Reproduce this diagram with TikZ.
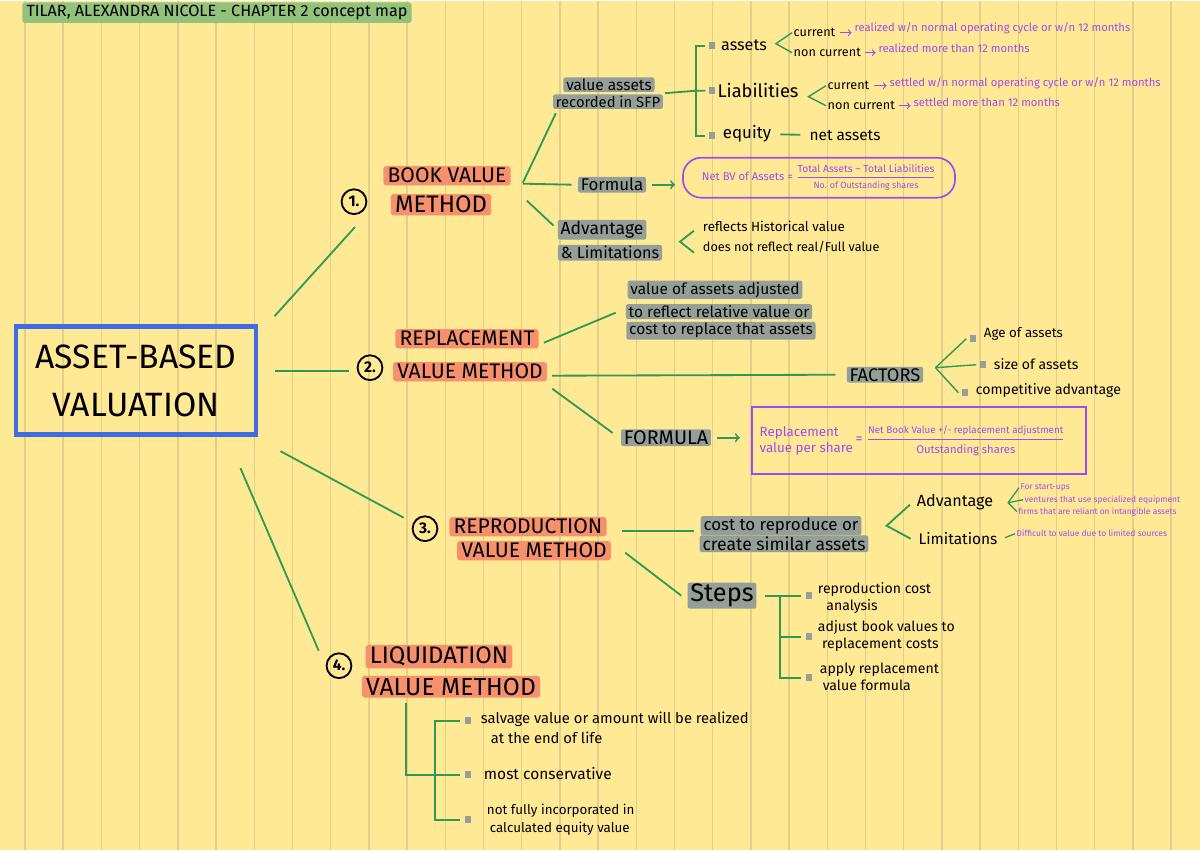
\documentclass[tikz,border=0pt]{standalone}
\usepackage{fontspec}
\usepackage{amsmath}
\setmainfont{Fira Sans}
\usetikzlibrary{arrows, calc, positioning}

\definecolor{paper}{HTML}{FFE994}
\definecolor{paperline}{HTML}{E2CF88}
\definecolor{hlgreen}{HTML}{93C27A}
\definecolor{hlorange}{HTML}{F7916D}
\definecolor{hlgray}{HTML}{949F98}
\definecolor{lgreen}{HTML}{2E9A56}
\definecolor{mpurple}{HTML}{A24AF0}
\definecolor{mblue}{HTML}{3F6BE3}

\newcommand{\fsz}[1]{\fontsize{#1}{#1}\selectfont}

\begin{document}
\begin{tikzpicture}[x=0.025cm, y=-0.025cm,
    link/.style={draw=lgreen, line width=1.3pt},
    hlgray/.style={fill=hlgray, rounded corners=1.5pt, inner xsep=2pt, inner ysep=1pt},
    hlorange/.style={fill=hlorange, rounded corners=2pt, inner xsep=3pt, inner ysep=1.5pt, font=\fsz{15}},
    num/.style={circle, draw, line width=1.3pt, minimum size=0.62cm, inner sep=0pt, font=\bfseries\fsz{11}},
    sq/.style={fill=hlgray, minimum size=0.17cm, inner sep=0pt},
    note/.style={text=mpurple, anchor=west, inner sep=1pt},
    item/.style={anchor=west, align=left},
    notearrow/.style={draw=mpurple, line width=0.8pt, ->, shorten <=2pt, shorten >=1pt}]
%    \tikzstyle{every node} = [draw]
    \fill [paper] (0, 0) rectangle (1200, 849);
    \foreach \n in {0, ..., 30} {
      \draw [paperline, line width=1pt] ({25 + 38.2*\n}, 0) -- ({25 + 38.2*\n}, 849);
    }
    \node [fill=hlgreen, rounded corners=2pt, inner xsep=3pt, inner ysep=2pt, font=\fsz{11.5}] (title) at (217, 12) {TILAR, ALEXANDRA NICOLE - CHAPTER 2 concept map};

    \node [draw=mblue, line width=3.5pt, minimum width=6cm, minimum height=2.7cm, align=center,
      font=\fontsize{24}{34}\selectfont] (main) at (136, 380) {ASSET-BASED\\VALUATION};

    \node [num] (c1) at (354, 201) {1.};
    \node [num] (c2) at (370, 367) {2.};
    \node [num] (c3) at (425, 528) {3.};
    \node [num] (c4) at (339, 665) {4.};
    \draw [link] ($(main.north east) + (16, -8)$) -- ($(c1.south) + (1, 12)$);
    \draw [link] ($(main.east) + (17, -10)$) -- ($(c2.west) + (-8, 3)$);
    \draw [link] ($(main.south east) + (22, 14)$) -- ($(c3.west) + (-8, -11)$);
    \draw [link] ($(main.south east) + (-18, 31)$) -- ($(c4.west) + (-7, -15)$);

    \node [hlorange] (bvA) at (447, 175) {BOOK VALUE};
    \node [hlorange, font=\fsz{17}] (bvB) at (441, 204) {METHOD};
    \node [hlorange] (rpA) at (467, 338) {REPLACEMENT};
    \node [hlorange] (rpB) at (470, 371) {VALUE METHOD};
    \node [hlorange] (rdA) at (528, 526) {REPRODUCTION};
    \node [hlorange] (rdB) at (534, 550) {VALUE METHOD};
    \node [hlorange, font=\fsz{17}] (lqA) at (439, 656) {LIQUIDATION};
    \node [hlorange, font=\fsz{17.5}] (lqB) at (451, 686) {VALUE METHOD};

    % book value method
    \node [hlgray, font=\fsz{11}] (sfpA) at (609, 84) {value assets};
    \node [hlgray, font=\fsz{10.5}] (sfpB) at (608, 101) {recorded in SFP};
    \node [hlgray, font=\fsz{12}] (bfm) at (612, 184) {Formula};
    \node [hlgray, font=\fsz{12.5}] (advA) at (602, 229) {Advantage};
    \node [hlgray, font=\fsz{11.5}] (advB) at (610, 252) {\& Limitations};
    \draw [link] ($(bvA.east) + (12, 7)$) -- ($(sfpB.south west) + (3, 4)$);
    \draw [link] ($(bvA.east) + (12, 8)$) -- ($(bfm.west) + (-6, 0)$);
    \draw [link] ($(bvA.east) + (16, 25)$) -- ($(advA.north west) + (-4, 6)$);

    \node [sq] (sqa) at (712, 45) {};
    \node [sq] (sql) at (712, 90) {};
    \node [sq] (sqe) at (712, 135) {};
    \coordinate (sfpj) at (696, 90);
    \draw [link] ($(sqa.west) + (-3, 0)$) -| (sfpj) |- ($(sqe.west) + (-3, 0)$);
    \draw [link] ($(sfpA.east)!0.5!(sfpB.east) + (6, 0)$) -- (sfpj) -- ($(sql.west) + (-3, 0)$);

    \node [font=\fsz{11.5}] (assets) at (744, 45) {assets};
    \node [font=\fsz{13}] (liab) at (758, 90) {Liabilities};
    \node [font=\fsz{12}] (equity) at (747, 133) {equity};
    \node [font=\fsz{11}] (netas) at (845, 135) {net assets};
    \draw [link, shorten <=3pt, shorten >=3pt] (equity) -- (netas);

    \node [font=\fsz{9}, anchor=west, inner sep=1pt] (acur) at (792, 32) {current};
    \node [font=\fsz{9}, anchor=west, inner sep=1pt] (ancur) at (792, 52) {non current};
    \draw [link, line width=1pt] (acur.west) -- ($(assets.east) + (4, -2)$) -- (ancur.west);
    \node [note, font=\fsz{8}] (acurN) at (853, 27) {realized w/n normal operating cycle or w/n 12 months};
    \node [note, font=\fsz{8}] (ancurN) at (877, 47) {realized more than 12 months};
    \draw [notearrow] (acur.east) -- (acur.east -| acurN.west);
    \draw [notearrow] (ancur.east) -- (ancur.east -| ancurN.west);

    \node [font=\fsz{9}, anchor=west, inner sep=1pt] (lcur) at (826, 85) {current};
    \node [font=\fsz{9}, anchor=west, inner sep=1pt] (lncur) at (826, 105) {non current};
    \draw [link, line width=1pt] (lcur.west) -- ($(liab.east) + (5, 6)$) -- (lncur.west);
    \node [note, font=\fsz{8}] (lcurN) at (888, 82) {settled w/n normal operating cycle or w/n 12 months};
    \node [note, font=\fsz{8}] (lncurN) at (912, 102) {settled more than 12 months};
    \draw [notearrow] (lcur.east) -- (lcur.east -| lcurN.west);
    \draw [notearrow] (lncur.east) -- (lncur.east -| lncurN.west);

    \node [draw=mpurple, line width=1.2pt, rounded corners=13pt, minimum width=6.8cm, minimum height=1cm,
      text=mpurple, font=\fsz{8}] (bfbox) at (819, 177)
      {Net BV of Assets = $\genfrac{}{}{0.8pt}{0}{\mbox{\fsz{7.3}Total Assets -- Total Liabilities}}{\mbox{\fsz{6.3}No. of Outstanding shares}}$};
    \draw [link, ->, shorten <=4pt, shorten >=5pt] (bfm.east) -- (bfm.east -| bfbox.west);

    \node [item, font=\fsz{9.5}] (refA) at (698, 226) {reflects Historical value};
    \node [item, font=\fsz{9}] (refB) at (698, 246) {does not reflect real/Full value};
    \draw [link] ($(refA.west) + (-4, 4)$) -- ($(refA.west) + (-18, 15)$) -- ($(refB.west) + (-4, 6)$);

    % replacement value method
    \node [hlgray, font=\fsz{11}] (rvA) at (715, 289) {value of assets adjusted};
    \node [hlgray, font=\fsz{11}] (rvB) at (719, 311) {to reflect relative value or};
    \node [hlgray, font=\fsz{11}] (rvC) at (721, 330) {cost to replace that assets};
    \draw [link] ($(rpA.east) + (5, 4)$) -- ($(rvB.west) + (-10, 1)$);

    \node [hlgray, font=\fsz{13}] (factors) at (885, 374) {FACTORS};
    \draw [link, shorten >=8pt] ($(rpB.east) + (5, 4)$) -- (factors.west);
    \coordinate (fv) at ($(factors.east) + (12, -7)$);
    \node [sq] (fs1) at (973, 338) {};
    \node [sq] (fs2) at (983, 364) {};
    \node [sq] (fs3) at (965, 392) {};
    \foreach \s in {fs1, fs2, fs3} {
      \draw [link, line width=1pt] (fv) -- ($(\s.west) + (-3, 0)$);
    }
    \node [item, font=\fsz{9.5}] (fa1) at (979, 333) {Age of assets};
    \node [item, font=\fsz{10}] (fa2) at (989, 363) {size of assets};
    \node [item, font=\fsz{10}] (fa3) at (971, 390) {competitive advantage};

    \node [hlgray, font=\fsz{14}] (rfm) at (666, 437) {FORMULA};
    \draw [link] ($(rpB.east) + (5, 17)$) -- ($(rfm.north west) + (-8, 4)$);
    \node [draw=mpurple, line width=1.2pt, minimum width=8.35cm, minimum height=1.675cm] (rfbox) at (919, 440) {};
    \draw [link, ->, shorten <=4pt, shorten >=8pt] (rfm.east) -- (rfm.east -| rfbox.west);
    \node [note, align=left, font=\fontsize{9.5}{11}\selectfont] (rfl) at (758, 440) {Replacement\\value per share};
    \node [note, font=\fsz{7}] (rff) at (854, 440)
      {\fsz{10}= $\genfrac{}{}{0.8pt}{0}{\mbox{\fsz{7}Net Book Value +/- replacement adjustment}}{\mbox{\fsz{8}Outstanding shares}}$};

    % reproduction value method
    \node [hlgray, font=\fsz{12}] (crA) at (781, 525) {cost to reproduce or};
    \node [hlgray, font=\fsz{12.5}] (crB) at (784, 543) {create similar assets};
    \coordinate (rdj) at ($(rdA.east) + (15, 4)$);
    \draw [link, shorten >=4pt] (rdj) -- (rdj -| crB.west);

    \node [font=\fsz{11.5}] (advR) at (955, 501) {Advantage};
    \node [font=\fsz{11}] (limR) at (958, 538) {Limitations};
    \coordinate (crv) at ($(crA.east) + (25, 0)$);
    \draw [link] ($(advR.west) + (-2, 3)$) -- (crv) -- ($(limR.west) + (-3, 0)$);

    \node [note, font=\fsz{6}] (an1) at (1019, 487) {For start-ups};
    \node [note, font=\fsz{6}] (an2) at (1023, 499) {ventures that use specialized equipment};
    \node [note, font=\fsz{6}] (an3) at (1017, 511) {firms that are reliant on intangible assets};
    \coordinate (av) at ($(advR.east) + (10, 1)$);
    \draw [link, line width=0.9pt] (an1.west) -- (av) -- (an3.west);
    \draw [link, line width=0.9pt] (av) -- (an2.west);
    \node [note, font=\fsz{6}] (limN) at (1015, 533) {Difficult to value due to limited sources};
    \draw [link, line width=0.9pt, shorten <=2pt] (limR.east) -- (limN.west);

    \node [hlgray, font=\fsz{18}] (steps) at (722, 595) {Steps};
    \draw [link] ($(rdB.east) + (14, 2)$) -- ($(steps.west) + (-6, 0)$);
    \node [sq] (ss1) at (809, 595) {};
    \node [sq] (ss2) at (809, 636) {};
    \node [sq] (ss3) at (809, 677) {};
    \coordinate (sb) at ($(steps.east) + (23, 0)$);
    \draw [link] ($(steps.east) + (8, 0)$) -- ($(ss1.west) + (-4, 0)$);
    \draw [link] (sb) |- ($(ss3.west) + (-4, 0)$);
    \draw [link] (sb |- ss2) -- ($(ss2.west) + (-4, 0)$);
    \node [item, font=\fontsize{10}{12}\selectfont] (st1) at (813, 597) {reproduction cost\\\hspace{6pt}analysis};
    \node [item, font=\fontsize{10}{12}\selectfont] (st2) at (813, 635) {adjust book values to\\\hspace{3pt}replacement costs};
    \node [item, font=\fontsize{10}{12}\selectfont] (st3) at (815, 676) {apply replacement\\\hspace{2pt}value formula};

    % liquidation value method
    \node [sq] (ls1) at (468, 720) {};
    \node [sq] (ls2) at (468, 774) {};
    \node [sq] (ls3) at (468, 819) {};
    \coordinate (lqt) at ($(lqB.south west) + (44, 5)$);
    \draw [link] (lqt) |- ($(ls2.west) + (-4, 0)$);
    \coordinate (lbr0) at (lqt |- ls2);
    \coordinate (lbr) at ($(lbr0) + (29, 0)$);
    \draw [link] ($(ls1.west) + (-4, 0)$) -| (lbr) |- ($(ls3.west) + (-4, 0)$);
    \node [item, font=\fontsize{10.5}{14}\selectfont] (li1) at (476, 727) {salvage value or amount will be realized\\\hspace{7pt}at the end of life};
    \node [item, font=\fsz{11}] (li2) at (479, 773) {most conservative};
    \node [item, font=\fontsize{9.5}{13.5}\selectfont] (li3) at (482, 819) {not fully incorporated in\\\hspace{2pt}calculated equity value};
\end{tikzpicture}
\end{document}
